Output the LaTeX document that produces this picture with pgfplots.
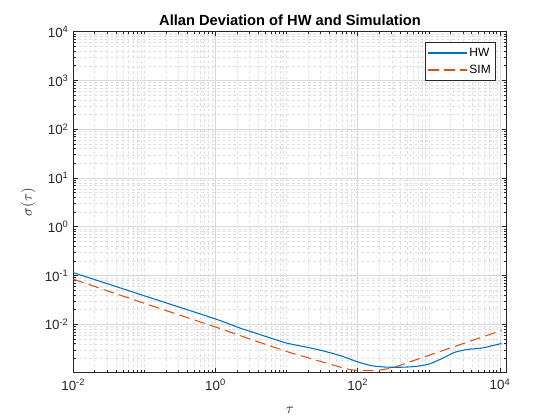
\documentclass[border=0pt]{standalone}
\usepackage{fontspec}
\setmainfont{Liberation Sans}
\usepackage{pgfplots}
\pgfplotsset{compat=1.18}
\definecolor{mblue}{RGB}{0,114,189}
\definecolor{mred}{RGB}{217,83,25}
\definecolor{axgray}{RGB}{38,38,38}
\newcommand{\tl}[1]{10\textsuperscript{#1}}
\begin{document}
\begin{tikzpicture}
\path[use as bounding box] (0,0) rectangle (420pt,315pt);
\begin{axis}[
 at={(54.98pt,35.48pt)}, anchor=south west,
 scale only axis, width=325.05pt, height=255.75pt,
 xmode=log, ymode=log,
 xmin=1e-2, xmax=1.24e4, ymin=1.02e-3, ymax=1e4,
 xtick={1e-2,1,1e2,1e4},
 xticklabels={\tl{-2},\tl{0},\tl{2},\tl{4}},
 ytick={1e-2,1e-1,1,1e1,1e2,1e3,1e4},
 yticklabels={\tl{-2},\tl{-1},\tl{0},\tl{1},\tl{2},\tl{3},\tl{4}},
 minor xtick={2e-2,3e-2,4e-2,5e-2,6e-2,7e-2,8e-2,9e-2,
   0.1,0.2,0.3,0.4,0.5,0.6,0.7,0.8,0.9,
   2,3,4,5,6,7,8,9,10,20,30,40,50,60,70,80,90,
   200,300,400,500,600,700,800,900,1000,2000,3000,4000,5000,6000,7000,8000,9000},
 minor ytick={2e-3,3e-3,4e-3,5e-3,6e-3,7e-3,8e-3,9e-3,
   2e-2,3e-2,4e-2,5e-2,6e-2,7e-2,8e-2,9e-2,
   0.2,0.3,0.4,0.5,0.6,0.7,0.8,0.9,
   2,3,4,5,6,7,8,9,20,30,40,50,60,70,80,90,
   200,300,400,500,600,700,800,900,2000,3000,4000,5000,6000,7000,8000,9000},
 grid=both,
 major grid style={black!15, line width=0.5pt},
 minor grid style={black!13, dash pattern=on 2pt off 2pt, line width=0.35pt},
 tick align=inside,
 major tick length=3.5pt, minor tick length=2pt,
 every tick/.style={axgray, line width=0.5pt},
 axis line style={axgray, line width=0.6pt},
 ticklabel style={font=\fontsize{10}{12}\selectfont, text=axgray},
 xticklabel style={yshift=-1pt},
 xlabel={$\tau$}, ylabel={$\sigma(\tau)$},
 xlabel style={yshift=-6pt},
 label style={font=\fontsize{11}{13}\selectfont, text=axgray},
 title={Allan Deviation of HW and Simulation},
 title style={font=\bfseries\fontsize{11}{13}\selectfont, yshift=-5pt},
 legend style={at={(0.9746,0.969)}, anchor=north east, draw=axgray,
   font=\fontsize{9}{11}\selectfont, row sep=1pt, inner xsep=2pt,
   nodes={inner xsep=1.5pt}},
 legend cell align=left,
 legend image code/.code={\draw[#1] (0pt,0pt) -- (29pt,0pt);},
]
\addplot[mblue, line width=0.8pt, smooth, tension=0.4] coordinates {
(0.01,0.1148) (0.1,0.03846) (1,0.01288) (2.2387,0.008318) (3.1623,0.007079)
(5.6234,0.005370) (10,0.004121) (19.953,0.003350) (31.623,0.002884) (56.234,0.002291)
(100,0.001698) (158.49,0.001413) (251.19,0.001327) (398.11,0.001318) (630.96,0.001365)
(1000,0.001531) (1584.9,0.002042) (2238.7,0.002630) (3162.3,0.002985) (3981.1,0.003126)
(5011.9,0.003199) (6309.6,0.003388) (7943.3,0.003673) (10000,0.003981) (10471,0.004074)
};
\addlegendentry{HW}
\addplot[mred, line width=0.8pt, dash pattern=on 8pt off 4pt, smooth, tension=0.4] coordinates {
(0.01,0.08414) (0.1,0.02692) (1,0.008810) (2.2387,0.005848) (4.2658,0.004217)
(11.220,0.002630) (19.498,0.002089) (33.113,0.001660) (56.234,0.001334) (79.433,0.001175)
(100,0.001135) (141.25,0.001122) (199.53,0.001148) (316.23,0.001303) (562.34,0.001738)
(1000,0.002317) (1778.3,0.003090) (3162.3,0.004121) (5623.4,0.005495) (10000,0.007295)
(10471,0.007464)
};
\addlegendentry{SIM}
\end{axis}
\end{tikzpicture}
\end{document}
